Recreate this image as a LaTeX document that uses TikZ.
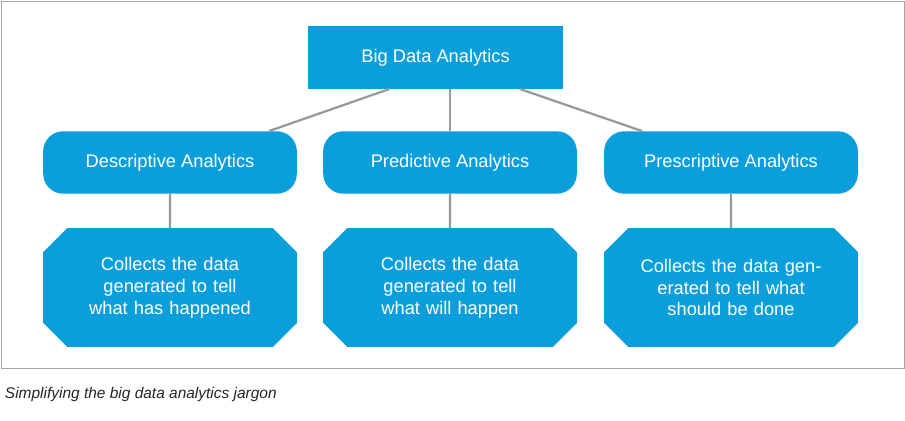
\documentclass[tikz,border=0pt]{standalone}
\usepackage{fontspec}
\setmainfont{Liberation Sans}
\usetikzlibrary{shapes.misc,positioning,calc}
\definecolor{boxblue}{HTML}{0A9FDB}
\definecolor{linegray}{HTML}{999999}

\tikzset{
  topbox/.style={fill=boxblue, text=white, minimum width=6.37cm, minimum height=1.56cm, font=\fontsize{13}{15}\selectfont},
  kindbox/.style={fill=boxblue, text=white, rounded corners=0.5cm, minimum width=6.34cm, minimum height=1.56cm, font=\fontsize{13}{15}\selectfont},
  infobox/.style={fill=boxblue, text=white, chamfered rectangle, chamfered rectangle xsep=0.3cm, chamfered rectangle ysep=0.3cm, minimum width=6.34cm, minimum height=2.97cm, align=center, text width=5.4cm, font=\fontsize{13}{15.5}\selectfont, inner sep=0pt},
  link/.style={linegray, line width=1.6pt}
}

\begin{document}
\begin{tikzpicture}[x=0.025cm,y=-0.025cm]
\useasboundingbox (0,0) rectangle (905,420);
\draw[gray!70, line width=0.6pt] (1,1) rectangle (904,368);

\node[topbox] (bda) at (435.5,57.5) {Big Data Analytics};

\node[kindbox] (desc) at (170,162.5) {Descriptive Analytics};
\node[kindbox] (pred) at (450,162.5) {Predictive Analytics};
\node[kindbox] (presc) at (731,162.5) {Prescriptive Analytics};

\node[infobox] (descinfo) at (170,287.5) {Collects the data generated to tell what has happened};
\node[infobox] (predinfo) at (450,287.5) {Collects the data generated to tell what will happen};
\node[infobox] (prescinfo) at (731,287.5) {Collects the data generated to tell what should be done};

% links from the top box
\draw[link] ($(bda.south west)!0.32!(bda.south east)$) -- ($(desc.north west)!0.89!(desc.north east)$);
\draw[link] (bda.south -| pred.north) -- (pred.north);
\draw[link] ($(bda.south west)!0.83!(bda.south east)$) -- ($(presc.north west)!0.15!(presc.north east)$);

% links down to the notes
\draw[link] (desc) -- (descinfo);
\draw[link] (pred) -- (predinfo);
\draw[link] (presc) -- (prescinfo);

\node[anchor=west, font=\itshape\fontsize{11}{13}\selectfont, text=black!85] (caption) at (0,394) {Simplifying the big data analytics jargon};
\end{tikzpicture}
\end{document}
